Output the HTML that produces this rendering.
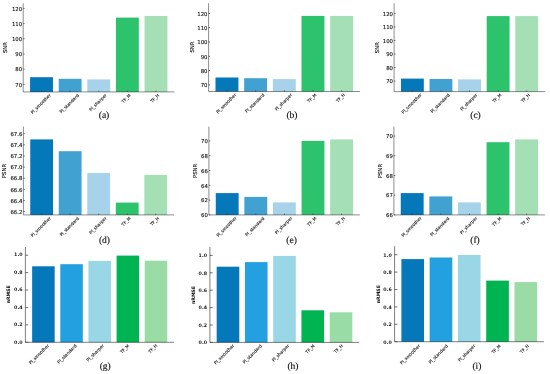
<!DOCTYPE html>
<html><head><meta charset="utf-8"><title>Bar charts</title>
<style>
html,body{margin:0;padding:0;background:#fff;}
body{width:550px;height:374px;overflow:hidden;}
svg{display:block;text-rendering:geometricPrecision;}
text{font-family:"DejaVu Sans","Liberation Sans",sans-serif;fill:#111;stroke:#111;stroke-width:0.12px;}
.ax{fill:none;stroke:#000;stroke-opacity:0.45;stroke-width:1;}
.ax3{fill:none;stroke:#000;stroke-opacity:0.5;stroke-width:1;}
.tk{stroke:#333;stroke-width:0.7;}
.t{font-size:5.35px;}
.tb{font-size:4.75px;font-weight:bold;stroke-width:0;fill:#1a1a1a;}
.x{font-size:4.3px;}
.y{font-size:5.4px;}
.yb{font-size:4.65px;font-weight:bold;stroke-width:0.05px;}
.cap{font-family:"Liberation Serif","Times New Roman",serif;font-size:9.5px;fill:#111;stroke-width:0.15px;}
</style></head><body>
<svg width="550" height="374" viewBox="0 0 550 374">
<rect width="550" height="374" fill="#fff"/>
<g><rect x="30.07" y="77.20" width="22.89" height="14.70" fill="#0478b9"/><rect x="58.69" y="78.80" width="22.89" height="13.10" fill="#41a2d1"/><rect x="87.30" y="79.40" width="22.89" height="12.50" fill="#a6d3ea"/><rect x="115.92" y="17.60" width="22.89" height="74.30" fill="#2cc36c"/><rect x="144.54" y="16.00" width="22.89" height="75.90" fill="#a5dfb5"/><path class="ax" d="M23.20 3.30V91.90H174.30"/><path class="tk" d="M23.20 84.40h1.40"/><text x="22.10" y="86.60" class="t" text-anchor="end">70</text><path class="tk" d="M23.20 69.20h1.40"/><text x="22.10" y="71.40" class="t" text-anchor="end">80</text><path class="tk" d="M23.20 54.00h1.40"/><text x="22.10" y="56.20" class="t" text-anchor="end">90</text><path class="tk" d="M23.20 38.80h1.40"/><text x="22.10" y="41.00" class="t" text-anchor="end">100</text><path class="tk" d="M23.20 23.60h1.40"/><text x="22.10" y="25.80" class="t" text-anchor="end">110</text><path class="tk" d="M23.20 8.40h1.40"/><text x="22.10" y="10.60" class="t" text-anchor="end">120</text><path class="tk" d="M41.52 91.90v-1.2"/><path class="tk" d="M70.13 91.90v-1.2"/><path class="tk" d="M98.75 91.90v-1.2"/><path class="tk" d="M127.37 91.90v-1.2"/><path class="tk" d="M155.98 91.90v-1.2"/><text transform="translate(41.47 104.50) rotate(-45)" class="x" text-anchor="middle" dominant-baseline="central">PI_smoother</text><text transform="translate(69.88 104.30) rotate(-45)" class="x" text-anchor="middle" dominant-baseline="central">PI_standard</text><text transform="translate(98.70 103.10) rotate(-45)" class="x" text-anchor="middle" dominant-baseline="central">PI_sharper</text><text transform="translate(126.97 99.20) rotate(-45)" class="x" text-anchor="middle" dominant-baseline="central">TF_M</text><text transform="translate(155.58 99.00) rotate(-45)" class="x" text-anchor="middle" dominant-baseline="central">TF_H</text><text transform="translate(6.40 47.50) rotate(-90)" class="y" text-anchor="middle" dominant-baseline="central">SNR</text><text x="104.00" y="117.70" class="cap" text-anchor="middle">(a)</text></g>
<g><rect x="215.48" y="77.50" width="22.94" height="14.00" fill="#0478b9"/><rect x="244.16" y="78.20" width="22.94" height="13.30" fill="#41a2d1"/><rect x="272.83" y="79.10" width="22.94" height="12.40" fill="#a6d3ea"/><rect x="301.50" y="15.90" width="22.94" height="75.60" fill="#2cc36c"/><rect x="330.18" y="15.90" width="22.94" height="75.60" fill="#a5dfb5"/><path class="ax" d="M208.60 3.20V91.50H360.00"/><path class="tk" d="M208.60 84.90h1.40"/><text x="207.50" y="87.10" class="t" text-anchor="end">70</text><path class="tk" d="M208.60 70.60h1.40"/><text x="207.50" y="72.80" class="t" text-anchor="end">80</text><path class="tk" d="M208.60 56.30h1.40"/><text x="207.50" y="58.50" class="t" text-anchor="end">90</text><path class="tk" d="M208.60 42.00h1.40"/><text x="207.50" y="44.20" class="t" text-anchor="end">100</text><path class="tk" d="M208.60 27.70h1.40"/><text x="207.50" y="29.90" class="t" text-anchor="end">110</text><path class="tk" d="M208.60 13.40h1.40"/><text x="207.50" y="15.60" class="t" text-anchor="end">120</text><path class="tk" d="M226.95 91.50v-1.2"/><path class="tk" d="M255.63 91.50v-1.2"/><path class="tk" d="M284.30 91.50v-1.2"/><path class="tk" d="M312.97 91.50v-1.2"/><path class="tk" d="M341.65 91.50v-1.2"/><text transform="translate(226.90 104.10) rotate(-45)" class="x" text-anchor="middle" dominant-baseline="central">PI_smoother</text><text transform="translate(255.38 103.90) rotate(-45)" class="x" text-anchor="middle" dominant-baseline="central">PI_standard</text><text transform="translate(284.25 102.70) rotate(-45)" class="x" text-anchor="middle" dominant-baseline="central">PI_sharper</text><text transform="translate(312.57 98.80) rotate(-45)" class="x" text-anchor="middle" dominant-baseline="central">TF_M</text><text transform="translate(341.25 98.60) rotate(-45)" class="x" text-anchor="middle" dominant-baseline="central">TF_H</text><text transform="translate(192.50 47.00) rotate(-90)" class="y" text-anchor="middle" dominant-baseline="central">SNR</text><text x="292.00" y="117.70" class="cap" text-anchor="middle">(b)</text></g>
<g><rect x="400.96" y="78.60" width="22.86" height="13.00" fill="#0478b9"/><rect x="429.54" y="79.00" width="22.86" height="12.60" fill="#41a2d1"/><rect x="458.12" y="79.40" width="22.86" height="12.20" fill="#a6d3ea"/><rect x="486.70" y="16.10" width="22.86" height="75.50" fill="#2cc36c"/><rect x="515.28" y="16.10" width="22.86" height="75.50" fill="#a5dfb5"/><path class="ax" d="M394.10 3.30V91.60H545.00"/><path class="tk" d="M394.10 81.10h1.40"/><text x="393.00" y="83.30" class="t" text-anchor="end">70</text><path class="tk" d="M394.10 67.56h1.40"/><text x="393.00" y="69.76" class="t" text-anchor="end">80</text><path class="tk" d="M394.10 54.02h1.40"/><text x="393.00" y="56.22" class="t" text-anchor="end">90</text><path class="tk" d="M394.10 40.48h1.40"/><text x="393.00" y="42.68" class="t" text-anchor="end">100</text><path class="tk" d="M394.10 26.94h1.40"/><text x="393.00" y="29.14" class="t" text-anchor="end">110</text><path class="tk" d="M394.10 13.40h1.40"/><text x="393.00" y="15.60" class="t" text-anchor="end">120</text><path class="tk" d="M412.39 91.60v-1.2"/><path class="tk" d="M440.97 91.60v-1.2"/><path class="tk" d="M469.55 91.60v-1.2"/><path class="tk" d="M498.13 91.60v-1.2"/><path class="tk" d="M526.71 91.60v-1.2"/><text transform="translate(412.34 104.20) rotate(-45)" class="x" text-anchor="middle" dominant-baseline="central">PI_smoother</text><text transform="translate(440.72 104.00) rotate(-45)" class="x" text-anchor="middle" dominant-baseline="central">PI_standard</text><text transform="translate(469.50 102.80) rotate(-45)" class="x" text-anchor="middle" dominant-baseline="central">PI_sharper</text><text transform="translate(497.73 98.90) rotate(-45)" class="x" text-anchor="middle" dominant-baseline="central">TF_M</text><text transform="translate(526.31 98.70) rotate(-45)" class="x" text-anchor="middle" dominant-baseline="central">TF_H</text><text transform="translate(377.60 47.70) rotate(-90)" class="y" text-anchor="middle" dominant-baseline="central">SNR</text><text x="475.50" y="117.70" class="cap" text-anchor="middle">(c)</text></g>
<g><rect x="30.25" y="139.40" width="22.82" height="75.50" fill="#0478b9"/><rect x="58.77" y="151.20" width="22.82" height="63.70" fill="#41a2d1"/><rect x="87.29" y="172.90" width="22.82" height="42.00" fill="#a6d3ea"/><rect x="115.81" y="202.60" width="22.82" height="12.30" fill="#2cc36c"/><rect x="144.34" y="174.90" width="22.82" height="40.00" fill="#a5dfb5"/><path class="ax" d="M23.40 126.60V214.90H174.00"/><path class="tk" d="M23.40 211.60h1.40"/><text x="22.30" y="213.80" class="t" text-anchor="end">66.2</text><path class="tk" d="M23.40 200.47h1.40"/><text x="22.30" y="202.67" class="t" text-anchor="end">66.4</text><path class="tk" d="M23.40 189.34h1.40"/><text x="22.30" y="191.54" class="t" text-anchor="end">66.6</text><path class="tk" d="M23.40 178.21h1.40"/><text x="22.30" y="180.41" class="t" text-anchor="end">66.8</text><path class="tk" d="M23.40 167.08h1.40"/><text x="22.30" y="169.28" class="t" text-anchor="end">67.0</text><path class="tk" d="M23.40 155.95h1.40"/><text x="22.30" y="158.15" class="t" text-anchor="end">67.2</text><path class="tk" d="M23.40 144.82h1.40"/><text x="22.30" y="147.02" class="t" text-anchor="end">67.4</text><path class="tk" d="M23.40 133.69h1.40"/><text x="22.30" y="135.89" class="t" text-anchor="end">67.6</text><path class="tk" d="M41.65 214.90v-1.2"/><path class="tk" d="M70.18 214.90v-1.2"/><path class="tk" d="M98.70 214.90v-1.2"/><path class="tk" d="M127.22 214.90v-1.2"/><path class="tk" d="M155.75 214.90v-1.2"/><text transform="translate(41.60 227.50) rotate(-45)" class="x" text-anchor="middle" dominant-baseline="central">PI_smoother</text><text transform="translate(69.93 227.30) rotate(-45)" class="x" text-anchor="middle" dominant-baseline="central">PI_standard</text><text transform="translate(98.65 226.10) rotate(-45)" class="x" text-anchor="middle" dominant-baseline="central">PI_sharper</text><text transform="translate(126.82 222.20) rotate(-45)" class="x" text-anchor="middle" dominant-baseline="central">TF_M</text><text transform="translate(155.35 222.00) rotate(-45)" class="x" text-anchor="middle" dominant-baseline="central">TF_H</text><text transform="translate(4.90 171.00) rotate(-90)" class="y" text-anchor="middle" dominant-baseline="central">PSNR</text><text x="104.50" y="242.70" class="cap" text-anchor="middle">(d)</text></g>
<g><rect x="215.76" y="193.10" width="22.88" height="21.80" fill="#0478b9"/><rect x="244.36" y="196.90" width="22.88" height="18.00" fill="#41a2d1"/><rect x="272.96" y="202.40" width="22.88" height="12.50" fill="#a6d3ea"/><rect x="301.56" y="140.90" width="22.88" height="74.00" fill="#2cc36c"/><rect x="330.16" y="139.40" width="22.88" height="75.50" fill="#a5dfb5"/><path class="ax" d="M208.90 126.60V214.90H359.90"/><path class="tk" d="M208.90 214.90h1.40"/><text x="207.80" y="217.10" class="t" text-anchor="end">60</text><path class="tk" d="M208.90 200.10h1.40"/><text x="207.80" y="202.30" class="t" text-anchor="end">62</text><path class="tk" d="M208.90 185.30h1.40"/><text x="207.80" y="187.50" class="t" text-anchor="end">64</text><path class="tk" d="M208.90 170.50h1.40"/><text x="207.80" y="172.70" class="t" text-anchor="end">66</text><path class="tk" d="M208.90 155.70h1.40"/><text x="207.80" y="157.90" class="t" text-anchor="end">68</text><path class="tk" d="M208.90 140.90h1.40"/><text x="207.80" y="143.10" class="t" text-anchor="end">70</text><path class="tk" d="M227.20 214.90v-1.2"/><path class="tk" d="M255.80 214.90v-1.2"/><path class="tk" d="M284.40 214.90v-1.2"/><path class="tk" d="M313.00 214.90v-1.2"/><path class="tk" d="M341.60 214.90v-1.2"/><text transform="translate(227.15 227.50) rotate(-45)" class="x" text-anchor="middle" dominant-baseline="central">PI_smoother</text><text transform="translate(255.55 227.30) rotate(-45)" class="x" text-anchor="middle" dominant-baseline="central">PI_standard</text><text transform="translate(284.35 226.10) rotate(-45)" class="x" text-anchor="middle" dominant-baseline="central">PI_sharper</text><text transform="translate(312.60 222.20) rotate(-45)" class="x" text-anchor="middle" dominant-baseline="central">TF_M</text><text transform="translate(341.20 222.00) rotate(-45)" class="x" text-anchor="middle" dominant-baseline="central">TF_H</text><text transform="translate(195.80 170.90) rotate(-90)" class="y" text-anchor="middle" dominant-baseline="central">PSNR</text><text x="291.60" y="242.70" class="cap" text-anchor="middle">(e)</text></g>
<g><rect x="400.76" y="193.10" width="22.88" height="21.80" fill="#0478b9"/><rect x="429.36" y="196.40" width="22.88" height="18.50" fill="#41a2d1"/><rect x="457.96" y="202.40" width="22.88" height="12.50" fill="#a6d3ea"/><rect x="486.56" y="142.20" width="22.88" height="72.70" fill="#2cc36c"/><rect x="515.16" y="139.40" width="22.88" height="75.50" fill="#a5dfb5"/><path class="ax" d="M393.90 126.60V214.90H544.90"/><path class="tk" d="M393.90 214.90h1.40"/><text x="392.80" y="217.10" class="t" text-anchor="end">66</text><path class="tk" d="M393.90 195.20h1.40"/><text x="392.80" y="197.40" class="t" text-anchor="end">67</text><path class="tk" d="M393.90 175.50h1.40"/><text x="392.80" y="177.70" class="t" text-anchor="end">68</text><path class="tk" d="M393.90 155.80h1.40"/><text x="392.80" y="158.00" class="t" text-anchor="end">69</text><path class="tk" d="M393.90 136.10h1.40"/><text x="392.80" y="138.30" class="t" text-anchor="end">70</text><path class="tk" d="M412.20 214.90v-1.2"/><path class="tk" d="M440.80 214.90v-1.2"/><path class="tk" d="M469.40 214.90v-1.2"/><path class="tk" d="M498.00 214.90v-1.2"/><path class="tk" d="M526.60 214.90v-1.2"/><text transform="translate(412.15 227.50) rotate(-45)" class="x" text-anchor="middle" dominant-baseline="central">PI_smoother</text><text transform="translate(440.55 227.30) rotate(-45)" class="x" text-anchor="middle" dominant-baseline="central">PI_standard</text><text transform="translate(469.35 226.10) rotate(-45)" class="x" text-anchor="middle" dominant-baseline="central">PI_sharper</text><text transform="translate(497.60 222.20) rotate(-45)" class="x" text-anchor="middle" dominant-baseline="central">TF_M</text><text transform="translate(526.20 222.00) rotate(-45)" class="x" text-anchor="middle" dominant-baseline="central">TF_H</text><text transform="translate(381.40 171.10) rotate(-90)" class="y" text-anchor="middle" dominant-baseline="central">PSNR</text><text x="475.00" y="242.70" class="cap" text-anchor="middle">(f)</text></g>
<g><rect x="32.15" y="266.30" width="22.52" height="76.00" fill="#0478b9"/><rect x="60.30" y="264.20" width="22.52" height="78.10" fill="#22a0e0"/><rect x="88.44" y="260.90" width="22.52" height="81.40" fill="#99d6e6"/><rect x="116.59" y="255.60" width="22.52" height="86.70" fill="#00b451"/><rect x="144.73" y="260.70" width="22.52" height="81.60" fill="#99dca6"/><path class="ax3" d="M25.40 247.10V342.30H174.00"/><path class="tk" d="M25.40 342.30h2.80"/><text x="22.50" y="343.53" class="tb" text-anchor="end">0.0</text><path class="tk" d="M25.40 324.88h2.80"/><text x="22.50" y="326.11" class="tb" text-anchor="end">0.2</text><path class="tk" d="M25.40 307.46h2.80"/><text x="22.50" y="308.69" class="tb" text-anchor="end">0.4</text><path class="tk" d="M25.40 290.04h2.80"/><text x="22.50" y="291.27" class="tb" text-anchor="end">0.6</text><path class="tk" d="M25.40 272.62h2.80"/><text x="22.50" y="273.85" class="tb" text-anchor="end">0.8</text><path class="tk" d="M25.40 255.20h2.80"/><text x="22.50" y="256.43" class="tb" text-anchor="end">1.0</text><text transform="translate(39.66 354.90) rotate(-45)" class="x" text-anchor="middle" dominant-baseline="central">PI_smoother</text><text transform="translate(67.61 354.70) rotate(-45)" class="x" text-anchor="middle" dominant-baseline="central">PI_standard</text><text transform="translate(95.95 353.50) rotate(-45)" class="x" text-anchor="middle" dominant-baseline="central">PI_sharper</text><text transform="translate(125.44 349.60) rotate(-45)" class="x" text-anchor="middle" dominant-baseline="central">TF_M</text><text transform="translate(153.59 349.40) rotate(-45)" class="x" text-anchor="middle" dominant-baseline="central">TF_H</text><text transform="translate(9.80 294.30) rotate(-90)" class="yb" text-anchor="middle" dominant-baseline="central">nRMSE</text><text x="105.20" y="368.50" class="cap" text-anchor="middle">(g)</text></g>
<g><rect x="216.68" y="266.70" width="22.61" height="75.70" fill="#0478b9"/><rect x="244.94" y="262.10" width="22.61" height="80.30" fill="#22a0e0"/><rect x="273.20" y="255.90" width="22.61" height="86.50" fill="#99d6e6"/><rect x="301.45" y="310.30" width="22.61" height="32.10" fill="#00b451"/><rect x="329.71" y="312.30" width="22.61" height="30.10" fill="#99dca6"/><path class="ax3" d="M209.90 246.90V342.40H359.10"/><path class="tk" d="M209.90 342.40h2.80"/><text x="207.00" y="344.23" class="tb" text-anchor="end">0.0</text><path class="tk" d="M209.90 325.00h2.80"/><text x="207.00" y="326.83" class="tb" text-anchor="end">0.2</text><path class="tk" d="M209.90 307.60h2.80"/><text x="207.00" y="309.43" class="tb" text-anchor="end">0.4</text><path class="tk" d="M209.90 290.20h2.80"/><text x="207.00" y="292.03" class="tb" text-anchor="end">0.6</text><path class="tk" d="M209.90 272.80h2.80"/><text x="207.00" y="274.63" class="tb" text-anchor="end">0.8</text><path class="tk" d="M209.90 255.40h2.80"/><text x="207.00" y="257.23" class="tb" text-anchor="end">1.0</text><text transform="translate(224.83 355.00) rotate(-45)" class="x" text-anchor="middle" dominant-baseline="central">PI_smoother</text><text transform="translate(252.89 354.80) rotate(-45)" class="x" text-anchor="middle" dominant-baseline="central">PI_standard</text><text transform="translate(281.35 353.60) rotate(-45)" class="x" text-anchor="middle" dominant-baseline="central">PI_sharper</text><text transform="translate(310.86 349.70) rotate(-45)" class="x" text-anchor="middle" dominant-baseline="central">TF_M</text><text transform="translate(339.12 349.50) rotate(-45)" class="x" text-anchor="middle" dominant-baseline="central">TF_H</text><text transform="translate(194.40 295.00) rotate(-90)" class="yb" text-anchor="middle" dominant-baseline="central">nRMSE</text><text x="293.00" y="368.50" class="cap" text-anchor="middle">(h)</text></g>
<g><rect x="401.39" y="259.10" width="22.62" height="82.60" fill="#0478b9"/><rect x="429.66" y="257.50" width="22.62" height="84.20" fill="#22a0e0"/><rect x="457.94" y="255.00" width="22.62" height="86.70" fill="#99d6e6"/><rect x="486.22" y="280.60" width="22.62" height="61.10" fill="#00b451"/><rect x="514.49" y="282.10" width="22.62" height="59.60" fill="#99dca6"/><path class="ax3" d="M394.60 246.20V341.70H543.90"/><path class="tk" d="M394.60 341.70h2.80"/><text x="391.70" y="343.53" class="tb" text-anchor="end">0.0</text><path class="tk" d="M394.60 324.30h2.80"/><text x="391.70" y="326.13" class="tb" text-anchor="end">0.2</text><path class="tk" d="M394.60 306.90h2.80"/><text x="391.70" y="308.73" class="tb" text-anchor="end">0.4</text><path class="tk" d="M394.60 289.50h2.80"/><text x="391.70" y="291.33" class="tb" text-anchor="end">0.6</text><path class="tk" d="M394.60 272.10h2.80"/><text x="391.70" y="273.93" class="tb" text-anchor="end">0.8</text><path class="tk" d="M394.60 254.70h2.80"/><text x="391.70" y="256.53" class="tb" text-anchor="end">1.0</text><text transform="translate(410.85 355.10) rotate(-45)" class="x" text-anchor="middle" dominant-baseline="central">PI_smoother</text><text transform="translate(438.92 354.90) rotate(-45)" class="x" text-anchor="middle" dominant-baseline="central">PI_standard</text><text transform="translate(467.40 353.70) rotate(-45)" class="x" text-anchor="middle" dominant-baseline="central">PI_sharper</text><text transform="translate(496.93 349.80) rotate(-45)" class="x" text-anchor="middle" dominant-baseline="central">TF_M</text><text transform="translate(525.20 349.60) rotate(-45)" class="x" text-anchor="middle" dominant-baseline="central">TF_H</text><text transform="translate(379.60 294.20) rotate(-90)" class="yb" text-anchor="middle" dominant-baseline="central">nRMSE</text><text x="476.90" y="368.50" class="cap" text-anchor="middle">(i)</text></g>
</svg>
</body></html>
